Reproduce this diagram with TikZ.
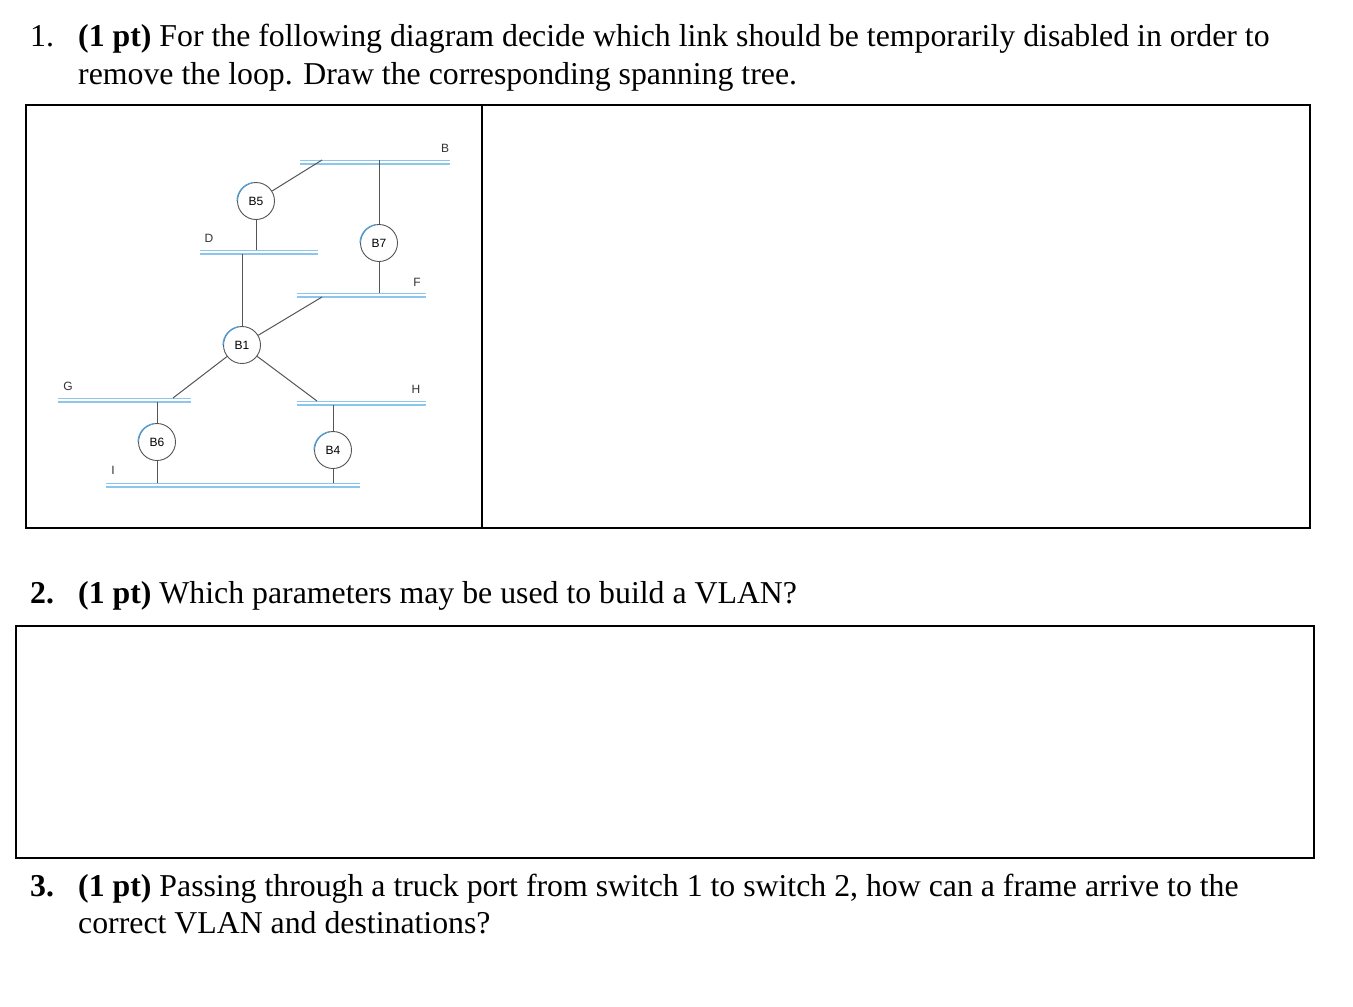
\documentclass[tikz,border=0pt]{standalone}
\usepackage{fontspec}
\setmainfont{Liberation Serif}
\newfontfamily\lsans{Liberation Sans}
\definecolor{buscol}{RGB}{140,198,236}
\definecolor{arccol}{RGB}{80,160,220}
\definecolor{lnkcol}{RGB}{85,85,85}
\begin{document}
\begin{tikzpicture}[x=1pt,y=-1pt,
  busline/.style={draw=buscol,line width=1.6pt},
  br/.style={circle,draw=lnkcol,fill=white,minimum size=37pt,inner sep=0pt,line width=0.9pt,font=\lsans\fontsize{12}{13}\selectfont},
  lnk/.style={draw=lnkcol,line width=1pt},
  lbl/.style={font=\lsans\fontsize{12}{13}\selectfont,text=black!80},
  q/.style={anchor=base west,font=\fontsize{31.8}{36}\selectfont,inner sep=0pt}]
\useasboundingbox (0,0) rectangle (1353,1007);
\fill[white] (0,0) rectangle (1353,1007);
\node[q] (n1) at (30,46) {1.};
\node[q] (t1) at (78,46) {\textbf{(1 pt)} For the following diagram decide which link should be temporarily disabled in order to};
\node[q] (t1b) at (78,84) {remove the loop. Draw the corresponding spanning tree.};
\node[q] (n2) at (30,603) {\textbf{2.}};
\node[q] (t2) at (78,603) {\textbf{(1 pt)} Which parameters may be used to build a VLAN?};
\node[q] (n3) at (30,896) {\textbf{3.}};
\node[q] (t3) at (78,896) {\textbf{(1 pt)} Passing through a truck port from switch 1 to switch 2, how can a frame arrive to the};
\node[q] (t3b) at (78,933) {correct VLAN and destinations?};
\draw[line width=1.3pt] (26,105) rectangle (482,528);
\draw[line width=1.3pt] (482,105) rectangle (1310,528);
\draw[line width=1.3pt] (16,626) rectangle (1314,858);
\foreach \n/\xa/\xb/\y in {B/300/450/162, D/200/318/252, F/297/426/295, G/58/191/400, H/297/426/403, I/106/360/485}{
  \draw[busline] (\xa,\y-1.7) -- (\xb,\y-1.7);
  \draw[busline] (\xa,\y+1.7) -- (\xb,\y+1.7);
}
\node[lbl] (lB) at (445,148) {B};
\node[lbl] (lD) at (209,238) {D};
\node[lbl] (lF) at (417,282) {F};
\node[lbl] (lG) at (68,386) {G};
\node[lbl] (lH) at (416,389) {H};
\node[lbl] (lI) at (113,470) {I};
\coordinate (pB5) at (322,160);
\coordinate (pB7) at (379,160);
\coordinate (pD5) at (256,250);
\coordinate (pD1) at (242,254);
\coordinate (pF7) at (379,293);
\coordinate (pF1) at (322,297);
\coordinate (pG1) at (173,398);
\coordinate (pG6) at (157,402);
\coordinate (pH1) at (317,401);
\coordinate (pH4) at (333,405);
\coordinate (pI6) at (157,483);
\coordinate (pI4) at (333,483);
\node[br] (B5) at (256,201) {B5};
\node[br] (B7) at (379,243) {B7};
\node[br] (B1) at (242,345) {B1};
\node[br] (B6) at (157,442) {B6};
\node[br] (B4) at (333,450) {B4};
\draw[lnk] (B5) -- (pB5);
\draw[lnk] (B5) -- (pD5);
\draw[lnk] (B7) -- (pB7);
\draw[lnk] (B7) -- (pF7);
\draw[lnk] (B1) -- (pD1);
\draw[lnk] (B1) -- (pF1);
\draw[lnk] (B1) -- (pG1);
\draw[lnk] (B1) -- (pH1);
\draw[lnk] (B6) -- (pG6);
\draw[lnk] (B6) -- (pI6);
\draw[lnk] (B4) -- (pH4);
\draw[lnk] (B4) -- (pI4);
\foreach \b in {B5,B7,B1,B6,B4}{
  \draw[arccol,line width=1.2pt] (\b.west) arc[start angle=180,end angle=100,radius=18.5pt];
}
\end{tikzpicture}
\end{document}
